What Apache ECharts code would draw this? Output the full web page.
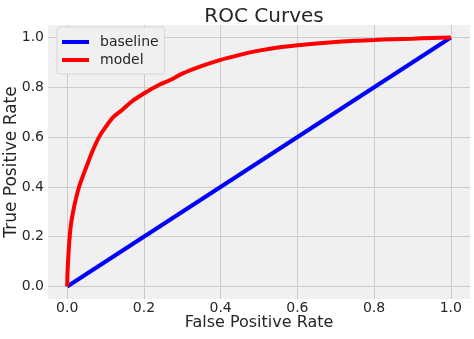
<!DOCTYPE html>
<html>
<head>
<meta charset="utf-8">
<script src="https://cdn.jsdelivr.net/npm/echarts@6/dist/echarts.min.js"></script>
<style>
html,body{margin:0;padding:0;background:#ffffff;}
#chart{width:474px;height:339px;}
</style>
</head>
<body>
<div id="chart"></div>
<script>
const titleText = 'ROC Curves';
const xName = 'False Positive Rate';
const yName = 'True Positive Rate';
const tickValues = [0, 0.2, 0.4, 0.6, 0.8, 1.0];
const baselineX = [0, 1];
const baselineY = [0, 1];
const modelX = [0, 0.001, 0.003, 0.006, 0.009, 0.013, 0.018, 0.024, 0.031, 0.04, 0.05, 0.065, 0.083, 0.1, 0.12, 0.144, 0.17, 0.2, 0.24, 0.27, 0.3, 0.35, 0.4, 0.45, 0.5, 0.55, 0.6, 0.65, 0.7, 0.75, 0.8, 0.85, 0.9, 0.95, 1.0];
const modelY = [0, 0.06, 0.12, 0.19, 0.24, 0.28, 0.32, 0.36, 0.40, 0.44, 0.48, 0.54, 0.60, 0.64, 0.68, 0.71, 0.745, 0.775, 0.81, 0.83, 0.855, 0.885, 0.91, 0.93, 0.947, 0.96, 0.969, 0.976, 0.982, 0.987, 0.99, 0.993, 0.995, 0.998, 1.0];

const font = 'DejaVu Sans';
const textColor = '#262626';
const chart = echarts.init(document.getElementById('chart'));

function axis(name, isX) {
  return {
    type: 'value',
    min: -0.05,
    max: 1.05,
    name: name,
    nameLocation: 'middle',
    nameMoveOverlap: false,
    nameGap: isX ? 16 : 28,
    nameTextStyle: {fontFamily: font, fontSize: isX ? 16 : 17, color: textColor},
    axisLine: {show: false},
    axisTick: {show: false, customValues: tickValues},
    axisLabel: {
      customValues: tickValues,
      fontFamily: font, fontSize: 14, color: textColor,
      margin: isX ? 2 : 4,
      formatter: v => v.toFixed(1)
    },
    splitLine: {show: true, lineStyle: {color: '#cbcbcb', width: 1}}
  };
}

chart.setOption({
  backgroundColor: '#ffffff',
  animation: false,
  title: {
    text: titleText,
    left: 259, top: 2, textAlign: 'center',
    textStyle: {fontFamily: font, fontSize: 20, fontWeight: 'normal', color: textColor}
  },
  grid: {left: 48, right: 4, top: 25, bottom: 40, containLabel: false, outerBoundsMode: 'none', show: true, backgroundColor: '#f0f0f0', borderWidth: 0},
  legend: {
    orient: 'vertical', left: 57, top: 27,
    padding: [8, 6, 7, 5],
    itemGap: 4,
    itemWidth: 27, itemHeight: 4,
    icon: 'rect',
    backgroundColor: '#f0f0f0',
    borderColor: '#d6d6d6', borderWidth: 1, borderRadius: 3,
    textStyle: {fontFamily: font, fontSize: 14, color: textColor, padding: [0, 0, 0, 6]},
    data: ['baseline', 'model']
  },
  xAxis: axis(xName, true),
  yAxis: axis(yName, false),
  series: [
    {
      name: 'baseline', type: 'line', showSymbol: false, symbol: 'none',
      data: baselineX.map((x, i) => [x, baselineY[i]]),
      lineStyle: {color: '#0000ff', width: 4}, itemStyle: {color: '#0000ff'}
    },
    {
      name: 'model', type: 'line', showSymbol: false, symbol: 'none', smooth: 0.3,
      data: modelX.map((x, i) => [x, modelY[i]]),
      lineStyle: {color: '#ff0000', width: 4}, itemStyle: {color: '#ff0000'}
    }
  ]
});
</script>
</body>
</html>
